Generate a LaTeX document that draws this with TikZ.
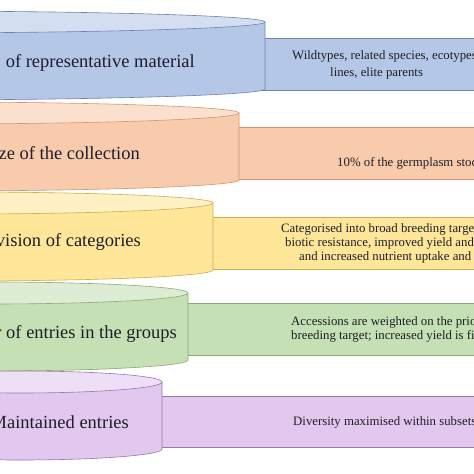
\documentclass[tikz,border=0pt]{standalone}
\usepackage{fontspec}
\setmainfont{Liberation Serif}
\usepackage{tikz}
\usetikzlibrary{positioning}
\usepackage{xcolor}
\definecolor{ink}{HTML}{1E1E28}
\definecolor{bluebody}{HTML}{B4C7E7}
\definecolor{bluetop}{HTML}{D3DEF1}
\definecolor{blueline}{HTML}{6E82AF}
\definecolor{orangebody}{HTML}{F8CBAD}
\definecolor{orangetop}{HTML}{FBE0CE}
\definecolor{orangeline}{HTML}{D2966E}
\definecolor{yellowbody}{HTML}{FFE699}
\definecolor{yellowtop}{HTML}{FFF1C4}
\definecolor{yellowline}{HTML}{C8AF50}
\definecolor{greenbody}{HTML}{C5E0B4}
\definecolor{greentop}{HTML}{DDEDD3}
\definecolor{greenline}{HTML}{8CAA78}
\definecolor{purplebody}{HTML}{E2C8EE}
\definecolor{purpletop}{HTML}{EFDFF6}
\definecolor{purpleline}{HTML}{9678AA}

% drum: #1 centre x, #2 right x, #3 top centre y, #4 colour
\newcommand{\drum}[4]{%
  \pgfmathsetmacro{\drumrx}{#2-(#1)}
  \filldraw[band, fill=#4body, draw=#4line]
    (#1-\drumrx, #3) -- (#2, #3) -- (#2, #3-67)
    arc[start angle=0, end angle=-180, x radius=\drumrx, y radius=11] -- cycle;
  \filldraw[band, fill=#4top, draw=#4line] (#1, #3) ellipse[x radius=\drumrx, y radius=11];
}

\begin{document}
\begin{tikzpicture}[x=1pt, y=1pt,
  every node/.style={text=ink, inner sep=0pt},
  band/.style={line width=0.6pt},
  stage/.style={font=\fontsize{18.5}{21}\selectfont, anchor=east},
  note/.style={font=\fontsize{12.8}{13.8}\selectfont, anchor=west, align=left}
]
  \useasboundingbox (0,0) rectangle (474,-474);
  \clip (0,0) rectangle (474,-474);

  % bands behind the drums
  \filldraw[band, fill=bluebody, draw=blueline]     (250,-38)  rectangle (490,-90);
  \filldraw[band, fill=orangebody, draw=orangeline] (225,-127) rectangle (490,-179);
  \filldraw[band, fill=yellowbody, draw=yellowline] (200,-217) rectangle (490,-269);
  \filldraw[band, fill=greenbody, draw=greenline]   (175,-303) rectangle (490,-355);
  \filldraw[band, fill=purplebody, draw=purpleline] (150,-396) rectangle (490,-447);

  % drums, widest on top
  \drum{-100}{265}{-22}{blue}
  \drum{-70}{239}{-113}{orange}
  \drum{-40}{213}{-203}{yellow}
  \drum{-10}{188}{-293}{green}
  \drum{20}{162}{-382}{purple}

  % stage labels
  \node[stage] (select)   at (195,-63)  {of representative material};
  \node[stage] (size)     at (140,-153) {Size of the collection};
  \node[stage] (division) at (141,-242) {Division of categories};
  \node[stage] (number)   at (177,-334) {Number of entries in the groups};
  \node[stage] (kept)     at (129,-422) {Maintained entries};

  % notes in the bands
  \node[note, font=\fontsize{12.8}{17}\selectfont] (selectnote) at (292,-64.5)
    {Wildtypes, related species, ecotypes, breeding\\\hspace*{38pt}lines, elite parents};
  \node[note] (sizenote) at (337,-163) {10\% of the germplasm stock};
  \node[note] (divisionnote) at (281,-243.5)
    {Categorised into broad breeding targets:\\\hspace*{4pt}biotic resistance, improved yield and\\\hspace*{18pt}and increased nutrient uptake and};
  \node[note] (numbernote) at (291,-329)
    {Accessions are weighted on the priority of the\\breeding target; increased yield is first};
  \node[note] (keptnote) at (293,-422) {Diversity maximised within subsets};
\end{tikzpicture}
\end{document}
